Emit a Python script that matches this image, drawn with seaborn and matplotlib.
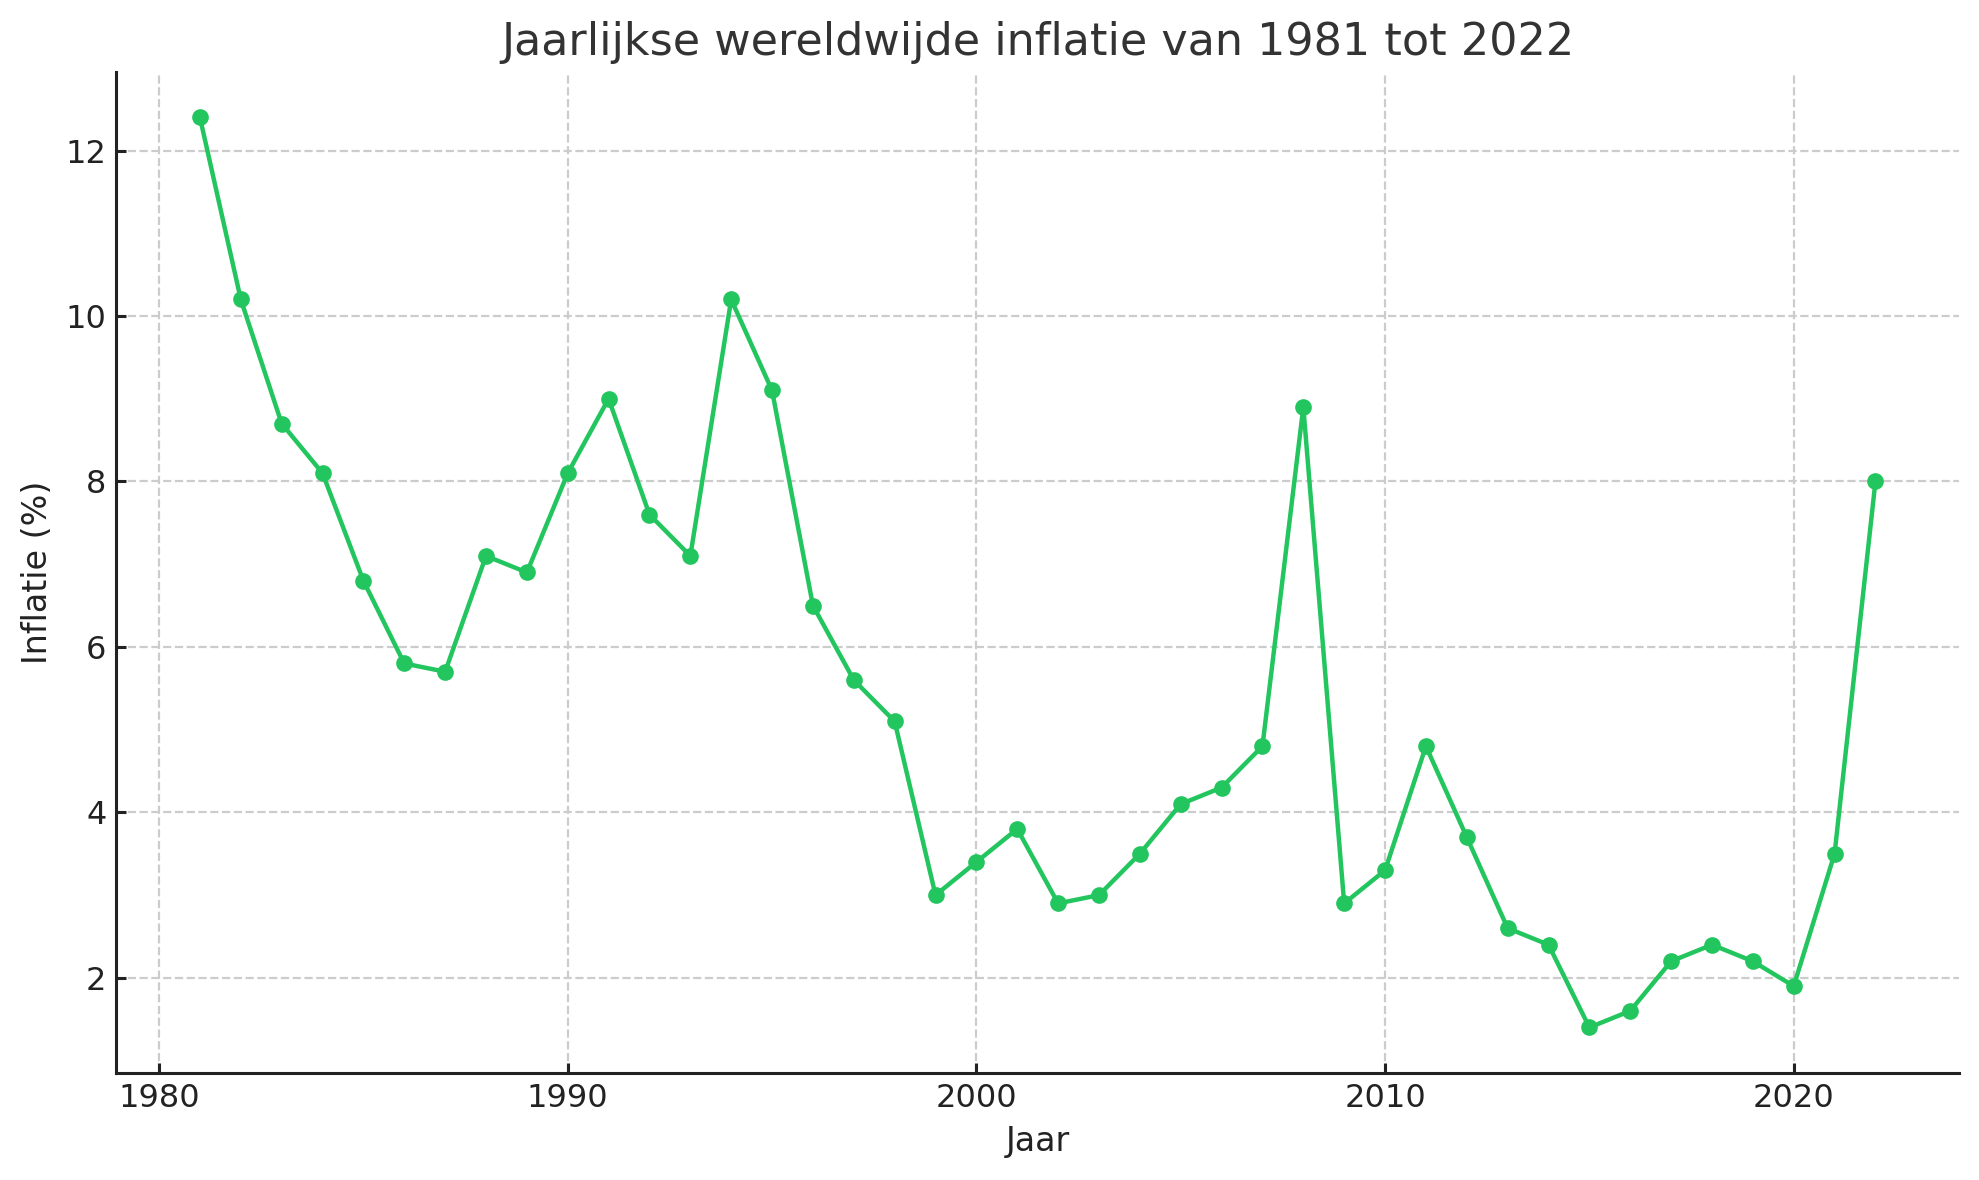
import matplotlib
matplotlib.use("Agg")
import pandas as pd
import matplotlib.pyplot as plt
import seaborn as sns

# jaarlijkse wereldwijde inflatie
jaren = list(range(1981, 2023))
inflatie = [12.4, 10.2, 8.7, 8.1, 6.8, 5.8, 5.7, 7.1, 6.9, 8.1,
            9.0, 7.6, 7.1, 10.2, 9.1, 6.5, 5.6, 5.1, 3.0, 3.4,
            3.8, 2.9, 3.0, 3.5, 4.1, 4.3, 4.8, 8.9, 2.9, 3.3,
            4.8, 3.7, 2.6, 2.4, 1.4, 1.6, 2.2, 2.4, 2.2, 1.9,
            3.5, 8.0]

df = pd.DataFrame({'Jaar': jaren, 'Inflatie': inflatie})

sns.set_style('ticks')
plt.rcParams['font.family'] = ['DejaVu Sans']

fig, ax = plt.subplots(figsize=(1979 / 200, 1180 / 200), dpi=200)
fig.subplots_adjust(left=0.0587, right=0.990, top=0.939, bottom=0.0907)

sns.lineplot(data=df, x='Jaar', y='Inflatie', color='#22c55e', linewidth=1.6,
             marker='o', markersize=6, markeredgewidth=0, ax=ax)

ax.grid(True, linestyle='--', color='#cccccc', linewidth=0.8)
ax.set_axisbelow(True)
sns.despine(ax=ax)
for s in ['left', 'bottom']:
    ax.spines[s].set_color('#222222')
    ax.spines[s].set_linewidth(1.1)
ax.set_xticks([1980, 1990, 2000, 2010, 2020])
ax.tick_params(labelsize=11.5, direction='in', length=3.5, width=1.1,
               color='#222222', labelcolor='#222222')
ax.set_xlabel('Jaar', fontsize=12, color='#222222')
ax.set_ylabel('Inflatie (%)', fontsize=12, color='#222222')
ax.set_title('Jaarlijkse wereldwijde inflatie van 1981 tot 2022', fontsize=16, color='#333333')

fig.savefig('out.png', dpi=200)
